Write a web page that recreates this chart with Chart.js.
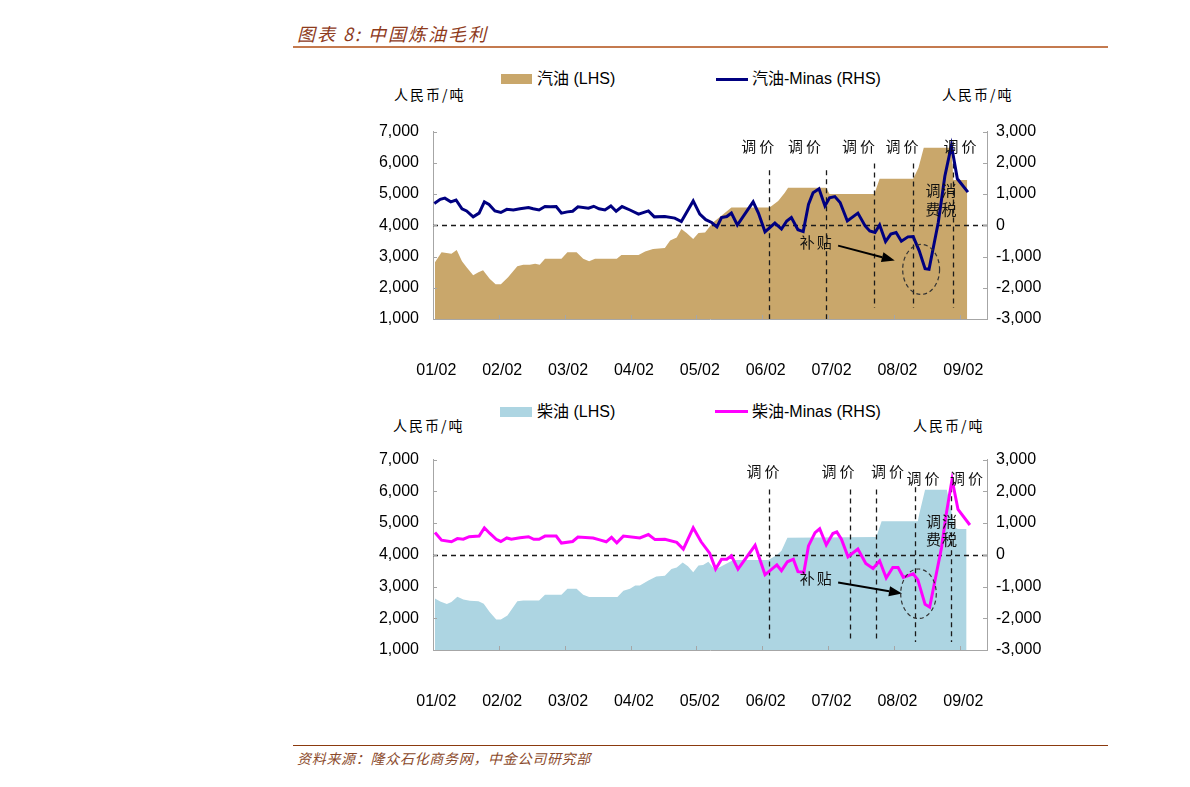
<!DOCTYPE html>
<html>
<head>
<meta charset="utf-8">
<script src="https://cdn.jsdelivr.net/npm/chart.js@4.4.1/dist/chart.umd.min.js"></script>
<style>
  body { margin: 0; background: #fff; width: 1190px; height: 787px; position: relative; overflow: hidden;
         font-family: "Liberation Sans", Arial, "Noto Sans CJK SC", sans-serif; }
  .abs { position: absolute; white-space: nowrap; }
  .mid { transform: translateY(-50%); line-height: 1; }
  .title { left: 297px; top: 33px; font: italic 18px "Noto Sans CJK SC"; letter-spacing: 2px; color: #8e3b1c; }
  .foot { left: 297px; top: 758px; font: italic 14px "Noto Sans CJK SC"; letter-spacing: 0.7px; color: #8b4a2b; }
  .rule { left: 293px; width: 815px; }
  .ltext { font-size: 16px; color: #000; }
  .unit { font: 14px "Noto Sans CJK SC"; letter-spacing: 2px; color: #000; }
  canvas { position: absolute; }
</style>
</head>
<body>
<div class="abs mid title">图表 8: 中国炼油毛利</div>
<div class="abs rule" style="top:46px;height:2px;background:#c47a4f"></div>

<div class="abs" style="left:501px;top:74px;width:31px;height:10px;background:#c9a76b"></div>
<div class="abs mid ltext" style="left:537px;top:79px">汽油 (LHS)</div>
<div class="abs" style="left:716px;top:78px;width:32px;height:3px;background:#000080"></div>
<div class="abs mid ltext" style="left:752px;top:79px">汽油-Minas (RHS)</div>
<div class="abs mid unit" style="left:394px;top:94px">人民币/吨</div>
<div class="abs mid unit" style="left:942px;top:94px">人民币/吨</div>

<div class="abs" style="left:500px;top:407px;width:32px;height:10px;background:#add5e2"></div>
<div class="abs mid ltext" style="left:537px;top:412px">柴油 (LHS)</div>
<div class="abs" style="left:715px;top:410px;width:33px;height:3px;background:#ff00ff"></div>
<div class="abs mid ltext" style="left:752px;top:412px">柴油-Minas (RHS)</div>
<div class="abs mid unit" style="left:393px;top:425px">人民币/吨</div>
<div class="abs mid unit" style="left:913px;top:425px">人民币/吨</div>

<canvas id="gasChart" width="700" height="282" style="left:360px;top:108px"></canvas>
<canvas id="dieselChart" width="700" height="284" style="left:360px;top:436px"></canvas>

<div class="abs rule" style="top:745px;height:1px;background:#8b3a0e"></div>
<div class="abs mid foot">资料来源：隆众石化商务网，中金公司研究部</div>

<script>
// x positions are in months from 01/02
const monthLabels = ["01/02", "02/02", "03/02", "04/02", "05/02", "06/02", "07/02", "08/02", "09/02"];
const X_MAX = 8.41;

const gasFillX = [0.03,0.13,0.28,0.36,0.44,0.51,0.61,0.69,0.76,0.86,0.95,1.03,1.14,1.28,1.37,1.47,1.55,1.62,1.70,1.95,
  2.04,2.18,2.28,2.37,2.46,2.79,2.86,3.12,3.22,3.34,3.52,3.60,3.70,3.77,3.85,3.95,4.03,4.13,4.25,4.41,
  4.53,5.11,5.24,5.34,5.39,5.97,6.02,6.70,6.78,7.29,7.37,7.45,7.87,7.90,8.11];
const gasFill = [2820,3140,3090,3210,2850,2660,2400,2500,2560,2290,2110,2110,2340,2690,2740,2740,2770,2740,2930,2930,
  3140,3140,2930,2850,2930,2930,3050,3050,3160,3240,3270,3510,3610,3880,3750,3560,3750,3770,4090,4360,
  4570,4570,4780,5040,5200,5200,5000,5000,5490,5490,5840,6480,6480,5450,5450];

const gasLineX = [0.02,0.11,0.18,0.27,0.35,0.44,0.51,0.61,0.70,0.78,0.85,0.94,1.03,1.12,1.22,1.32,1.45,1.52,1.61,1.70,
  1.78,1.87,1.95,2.04,2.12,2.20,2.36,2.44,2.52,2.61,2.70,2.78,2.87,2.99,3.12,3.27,3.36,3.52,3.67,3.77,
  3.95,4.05,4.14,4.23,4.31,4.38,4.46,4.53,4.62,4.86,4.94,5.04,5.19,5.29,5.37,5.44,5.54,5.62,5.70,5.77,
  5.86,5.95,6.02,6.10,6.18,6.29,6.45,6.56,6.63,6.71,6.78,6.87,6.95,7.03,7.11,7.21,7.29,7.38,7.47,7.53,
  7.67,7.77,7.87,7.96,8.12];
const gasMinas = [700,830,870,750,810,530,460,270,390,750,670,460,410,510,490,530,570,530,490,600,
  590,600,390,430,450,590,550,610,530,490,620,450,600,490,360,460,270,280,230,120,
  780,360,180,90,-50,250,280,390,10,750,390,-210,70,-120,140,250,-140,-200,670,1040,
  1170,620,880,920,730,140,390,-20,-180,-230,10,-520,-280,-230,-510,-370,-360,-810,-1390,-1410,
  90,1570,2560,1490,1060];

const dieselFillX = [0.03,0.11,0.21,0.28,0.37,0.46,0.56,0.69,0.77,0.86,0.96,1.03,1.13,1.28,1.37,1.61,1.70,1.95,2.04,2.18,
  2.28,2.37,2.80,2.89,2.99,3.07,3.14,3.27,3.39,3.52,3.62,3.70,3.79,3.87,3.95,4.03,4.10,4.18,4.28,4.38,
  4.56,5.09,5.22,5.29,5.38,6.73,6.81,7.36,7.38,7.47,7.80,7.92,7.97,8.10];
const dieselFill = [2620,2530,2450,2510,2680,2590,2550,2540,2460,2200,1960,1960,2090,2540,2560,2560,2740,2740,2930,2930,
  2740,2670,2670,2870,2930,3030,3030,3190,3320,3340,3550,3600,3760,3640,3450,3660,3680,3780,3530,3640,
  3840,3840,3990,4130,4540,4560,5060,5060,5270,6050,6050,4860,4810,4810];

const dieselLineX = [0.03,0.13,0.28,0.37,0.46,0.55,0.70,0.78,0.86,0.96,1.03,1.12,1.19,1.32,1.45,1.53,1.61,1.70,1.87,1.95,
  2.12,2.20,2.43,2.53,2.63,2.71,2.79,2.89,3.14,3.27,3.37,3.52,3.70,3.80,3.95,4.07,4.20,4.29,4.38,4.46,
  4.53,4.63,4.89,5.04,5.22,5.29,5.38,5.47,5.54,5.63,5.70,5.80,5.87,5.97,6.07,6.13,6.20,6.30,6.45,6.57,
  6.68,6.78,6.88,6.98,7.06,7.14,7.29,7.36,7.47,7.54,7.72,7.79,7.88,7.97,8.15];
const dieselMinas = [700,460,410,510,490,570,590,850,680,490,420,530,490,540,570,490,490,590,590,370,
  420,560,530,470,410,550,380,590,530,640,480,490,390,180,850,410,50,-450,-140,-140,
  -30,-450,300,-630,-320,-500,-220,-140,-530,-550,280,700,820,310,670,720,490,-60,180,-270,
  -430,-190,-730,-400,-400,-710,-600,-790,-1560,-1650,230,1270,2370,1430,940];

// annotations, in (month, RHS value) coordinates
const gasNotes = {
  lines: [
    { x: 5.10, top: 1760, bottom: -3000 },
    { x: 5.97, top: 1760, bottom: -3000 },
    { x: 6.69, top: 1980, bottom: -2650 },
    { x: 7.28, top: 1980, bottom: -2650 },
    { x: 7.89, top: 1980, bottom: -2650 },
  ],
  labels: [
    { x: 4.93, y: 2520 }, { x: 5.64, y: 2520 }, { x: 6.46, y: 2520 }, { x: 7.12, y: 2520 }, { x: 8.00, y: 2520 },
  ],
  subsidy: { x: 5.81, y: -556 },
  arrow: { x0: 6.15, y0: -651, x1: 7.01, y1: -1127 },
  ellipse: { x: 7.41, y: -1413, rx: 0.28, ry: 800 },
  tax: { x: 7.71, y1: 1127, y2: 524 },
};
const dieselNotes = {
  lines: [
    { x: 5.10, top: 2060, bottom: -2750 },
    { x: 6.33, top: 2060, bottom: -2750 },
    { x: 6.73, top: 2060, bottom: -2750 },
    { x: 7.31, top: 2125, bottom: -2750 },
    { x: 7.87, top: 2125, bottom: -2750 },
  ],
  labels: [
    { x: 5.01, y: 2640 }, { x: 6.15, y: 2640 }, { x: 6.90, y: 2640 }, { x: 7.44, y: 2400 }, { x: 8.10, y: 2400 },
  ],
  subsidy: { x: 5.81, y: -750 },
  arrow: { x0: 6.15, y0: -875, x1: 7.12, y1: -1219 },
  ellipse: { x: 7.37, y: -1228, rx: 0.27, ry: 780 },
  tax: { x: 7.72, y1: 1063, y2: 500 },
};

const axisColor = "#a6a6a6";

function pairs(xs, ys) {
  return xs.map((x, i) => ({ x, y: ys[i] }));
}

function fmt(v) {
  return Number(v).toLocaleString("en-US");
}

function spacedText(ctx, text, cx, cy, size, gap) {
  ctx.font = `${size}px "Noto Sans CJK SC"`;
  ctx.textAlign = "left";
  ctx.textBaseline = "middle";
  const chars = [...text];
  let x = cx - (chars.length * size + (chars.length - 1) * gap) / 2;
  for (const ch of chars) {
    ctx.fillText(ch, x, cy);
    x += size + gap;
  }
}

function notesPlugin(notes) {
  return {
    id: "notes",
    // dashed guide lines go over the area but under the Minas line
    afterDatasetDraw(chart, args) {
      if (args.index !== 0) return;
      const { ctx, chartArea: a } = chart;
      const x = chart.scales.x;
      const y2 = chart.scales.y2;
      ctx.save();
      ctx.strokeStyle = "#1a1a1a";
      ctx.lineWidth = 1.3;
      ctx.setLineDash([5, 4]);
      ctx.beginPath();
      const z = Math.round(y2.getPixelForValue(0)) + 0.5;
      ctx.moveTo(a.left, z);
      ctx.lineTo(a.right, z);
      for (const l of notes.lines) {
        const px = Math.round(x.getPixelForValue(l.x)) + 0.5;
        ctx.moveTo(px, y2.getPixelForValue(l.top));
        ctx.lineTo(px, y2.getPixelForValue(l.bottom));
      }
      ctx.stroke();
      ctx.restore();
    },
    afterDatasetsDraw(chart) {
      const { ctx, chartArea: a } = chart;
      const x = chart.scales.x;
      const y = chart.scales.y;
      const y2 = chart.scales.y2;
      ctx.save();

      // inward tick marks
      ctx.strokeStyle = axisColor;
      ctx.lineWidth = 1;
      ctx.beginPath();
      for (let i = 1; i < monthLabels.length; i++) {
        const px = Math.round(x.getPixelForValue(i)) + 0.5;
        ctx.moveTo(px, a.bottom);
        ctx.lineTo(px, a.bottom - 4);
      }
      for (let v = 1000; v <= 7000; v += 1000) {
        const py = Math.round(y.getPixelForValue(v)) + 0.5;
        ctx.moveTo(a.left, py);
        ctx.lineTo(a.left + 4, py);
        ctx.moveTo(a.right, py);
        ctx.lineTo(a.right - 4, py);
      }
      ctx.stroke();

      ctx.fillStyle = "#111";
      for (const l of notes.labels) {
        spacedText(ctx, "调价", x.getPixelForValue(l.x), y2.getPixelForValue(l.y), 15, 3);
      }
      spacedText(ctx, "补贴", x.getPixelForValue(notes.subsidy.x), y2.getPixelForValue(notes.subsidy.y), 15, 2);
      spacedText(ctx, "调消", x.getPixelForValue(notes.tax.x), y2.getPixelForValue(notes.tax.y1), 15, 1);
      spacedText(ctx, "费税", x.getPixelForValue(notes.tax.x), y2.getPixelForValue(notes.tax.y2), 15, 1);

      // arrow
      const ar = notes.arrow;
      const ax0 = x.getPixelForValue(ar.x0), ay0 = y2.getPixelForValue(ar.y0);
      const ax1 = x.getPixelForValue(ar.x1), ay1 = y2.getPixelForValue(ar.y1);
      const ang = Math.atan2(ay1 - ay0, ax1 - ax0);
      const hl = 13, hw = 5;
      const bx = ax1 - hl * Math.cos(ang), by = ay1 - hl * Math.sin(ang);
      ctx.strokeStyle = "#000";
      ctx.lineWidth = 2;
      ctx.beginPath();
      ctx.moveTo(ax0, ay0);
      ctx.lineTo(bx, by);
      ctx.stroke();
      ctx.fillStyle = "#000";
      ctx.beginPath();
      ctx.moveTo(ax1, ay1);
      ctx.lineTo(bx + hw * Math.sin(ang), by - hw * Math.cos(ang));
      ctx.lineTo(bx - hw * Math.sin(ang), by + hw * Math.cos(ang));
      ctx.closePath();
      ctx.fill();

      // dashed ellipse
      const e = notes.ellipse;
      const ex = x.getPixelForValue(e.x), ey = y2.getPixelForValue(e.y);
      const rx = x.getPixelForValue(e.x + e.rx) - ex;
      const ry = ey - y2.getPixelForValue(e.y + e.ry);
      ctx.strokeStyle = "#333";
      ctx.lineWidth = 1.2;
      ctx.setLineDash([4, 3]);
      ctx.beginPath();
      ctx.ellipse(ex, ey, rx, ry, 0, 0, Math.PI * 2);
      ctx.stroke();
      ctx.restore();
    },
  };
}

function buildChart(id, opts) {
  return new Chart(document.getElementById(id), {
    type: "line",
    data: {
      datasets: [
        {
          label: opts.fillLabel,
          data: pairs(opts.fillX, opts.fillY),
          yAxisID: "y",
          order: 2,
          fill: "start",
          backgroundColor: opts.fillColor,
          borderWidth: 0,
          pointRadius: 0,
          tension: 0,
        },
        {
          label: opts.lineLabel,
          data: pairs(opts.lineX, opts.lineY),
          yAxisID: "y2",
          order: 1,
          fill: false,
          borderColor: opts.lineColor,
          borderWidth: 3,
          pointRadius: 0,
          tension: 0,
        },
      ],
    },
    options: {
      responsive: false,
      animation: false,
      devicePixelRatio: 1,
      layout: { padding: { top: 18, bottom: 0, left: 0, right: 0 } },
      plugins: { legend: { display: false }, tooltip: { enabled: false } },
      scales: {
        x: {
          type: "linear",
          min: 0,
          max: X_MAX,
          afterBuildTicks: (s) => { s.ticks = monthLabels.map((_, i) => ({ value: i + 0.05 })); },
          afterFit: (s) => { s.height = opts.xHeight; },
          ticks: {
            callback: (v) => monthLabels[Math.round(v)] || "",
            padding: 42,
            maxRotation: 0,
            autoSkip: false,
            color: "#000",
            font: { size: 16 },
          },
          grid: { display: false, drawTicks: false },
          border: { display: true, color: axisColor },
        },
        y: {
          position: "left",
          min: 1000,
          max: 7000,
          afterFit: (s) => { s.width = 73; },
          ticks: { stepSize: 1000, padding: 14, callback: fmt, color: "#000", font: { size: 16 } },
          grid: { display: false, drawTicks: false },
          border: { display: true, color: axisColor },
        },
        y2: {
          position: "right",
          min: -3000,
          max: 3000,
          afterFit: (s) => { s.width = 73; },
          ticks: { stepSize: 1000, padding: 9, callback: fmt, color: "#000", font: { size: 16 } },
          grid: { display: false, drawTicks: false },
          border: { display: true, color: axisColor },
        },
      },
    },
    plugins: [notesPlugin(opts.notes)],
  });
}

Chart.defaults.font.family = '"Liberation Sans", Arial, sans-serif';

buildChart("gasChart", {
  fillLabel: "汽油 (LHS)",
  lineLabel: "汽油-Minas (RHS)",
  fillX: gasFillX,
  fillY: gasFill,
  fillColor: "#c9a76b",
  lineX: gasLineX,
  lineY: gasMinas,
  lineColor: "#000080",
  notes: gasNotes,
  xHeight: 71,
});

buildChart("dieselChart", {
  fillLabel: "柴油 (LHS)",
  lineLabel: "柴油-Minas (RHS)",
  fillX: dieselFillX,
  fillY: dieselFill,
  fillColor: "#add5e2",
  lineX: dieselLineX,
  lineY: dieselMinas,
  lineColor: "#ff00ff",
  notes: dieselNotes,
  xHeight: 70,
});
</script>
</body>
</html>
